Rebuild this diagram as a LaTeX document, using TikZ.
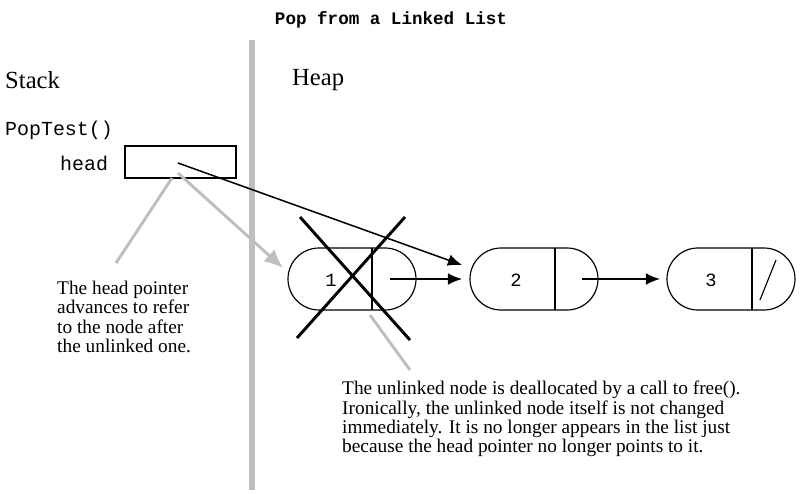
\documentclass[tikz,border=0pt]{standalone}
\usepackage{fontspec}
\setmainfont{Liberation Serif}
\setmonofont{Liberation Mono}
\usetikzlibrary{shapes.misc, arrows.meta, positioning}
\definecolor{lgray}{RGB}{190,190,190}
\tikzstyle{cell} = [rounded rectangle, draw, line width=1pt, minimum width=3.84cm, minimum height=1.86cm, inner sep=0pt]
\tikzstyle{arrow} = [line width=1.3pt, -{Latex[length=12pt,width=10pt]}]
\tikzstyle{callout} = [lgray, line width=2.5pt]
\tikzstyle{note} = [align=left, font=\fontsize{16.5}{16.5}\selectfont, inner sep=0pt, anchor=north west]

\begin{document}
\begin{tikzpicture}[x=0.03cm, y=-0.03cm]
    \useasboundingbox (0,0) rectangle (800,493);
    \node (title) at (391,20) {\ttfamily\bfseries\fontsize{15}{17}\selectfont Pop from a Linked List};
    \fill[lgray] (249,40) rectangle (255,490);
    \node (stack) [anchor=west, inner sep=0pt] at (5,80) {\fontsize{21}{24}\selectfont Stack};
    \node (heap) [anchor=west, inner sep=0pt] at (292,80) {\fontsize{21}{24}\selectfont Heap};
    \node (frame) [anchor=west, inner sep=0pt] at (5,130) {\ttfamily\fontsize{17}{19}\selectfont PopTest()};
    \node (headlbl) [anchor=west, inner sep=0pt] at (60,163) {\ttfamily\fontsize{17}{19}\selectfont head};
    \draw[line width=1.2pt] (125,146) rectangle (236,178);
    \coordinate (headptr) at (178,163);

    % list cells
    \node (n1) [cell] at (352,279) {};
    \node (n2) [cell] at (534,279) {};
    \node (n3) [cell] at (731,279) {};
    \draw[line width=1pt] (372,248) -- (372,310);
    \draw[line width=1pt] (555,248) -- (555,310);
    \draw[line width=1pt] (752,248) -- (752,310);
    \node (v1) at (331,280) {\ttfamily\fontsize{16}{18}\selectfont 1};
    \node (v2) at (516,280) {\ttfamily\fontsize{16}{18}\selectfont 2};
    \node (v3) at (711,280) {\ttfamily\fontsize{16}{18}\selectfont 3};
    \draw[line width=1pt] (760,300) -- (776,260);

    % pointers
    \draw[callout, -{Latex[length=16pt,width=14pt]}] (headptr) ++(0,10) -- (283,268);
    \draw[callout] (172,178) -- (116,263);
    \draw[callout] (370,315) -- (410,370);
    \draw[arrow] (headptr) -- (462,265);
    \draw[arrow] (390,279) -- (462,279);
    \draw[arrow] (582,279) -- (660,279);

    % cross
    \draw[line width=2.5pt] (300,217) -- (410,340);
    \draw[line width=2.5pt] (405,217) -- (297,338);

    \node (note1) [note] at (57,281) {The head pointer\\advances to refer\\to the node after\\the unlinked one.};
    \node (note2) [note] at (342,381) {The unlinked node is deallocated by a call to free().\\Ironically, the unlinked node itself is not changed\\immediately. It is no longer appears in the list just\\because the head pointer no longer points to it.};
\end{tikzpicture}
\end{document}
